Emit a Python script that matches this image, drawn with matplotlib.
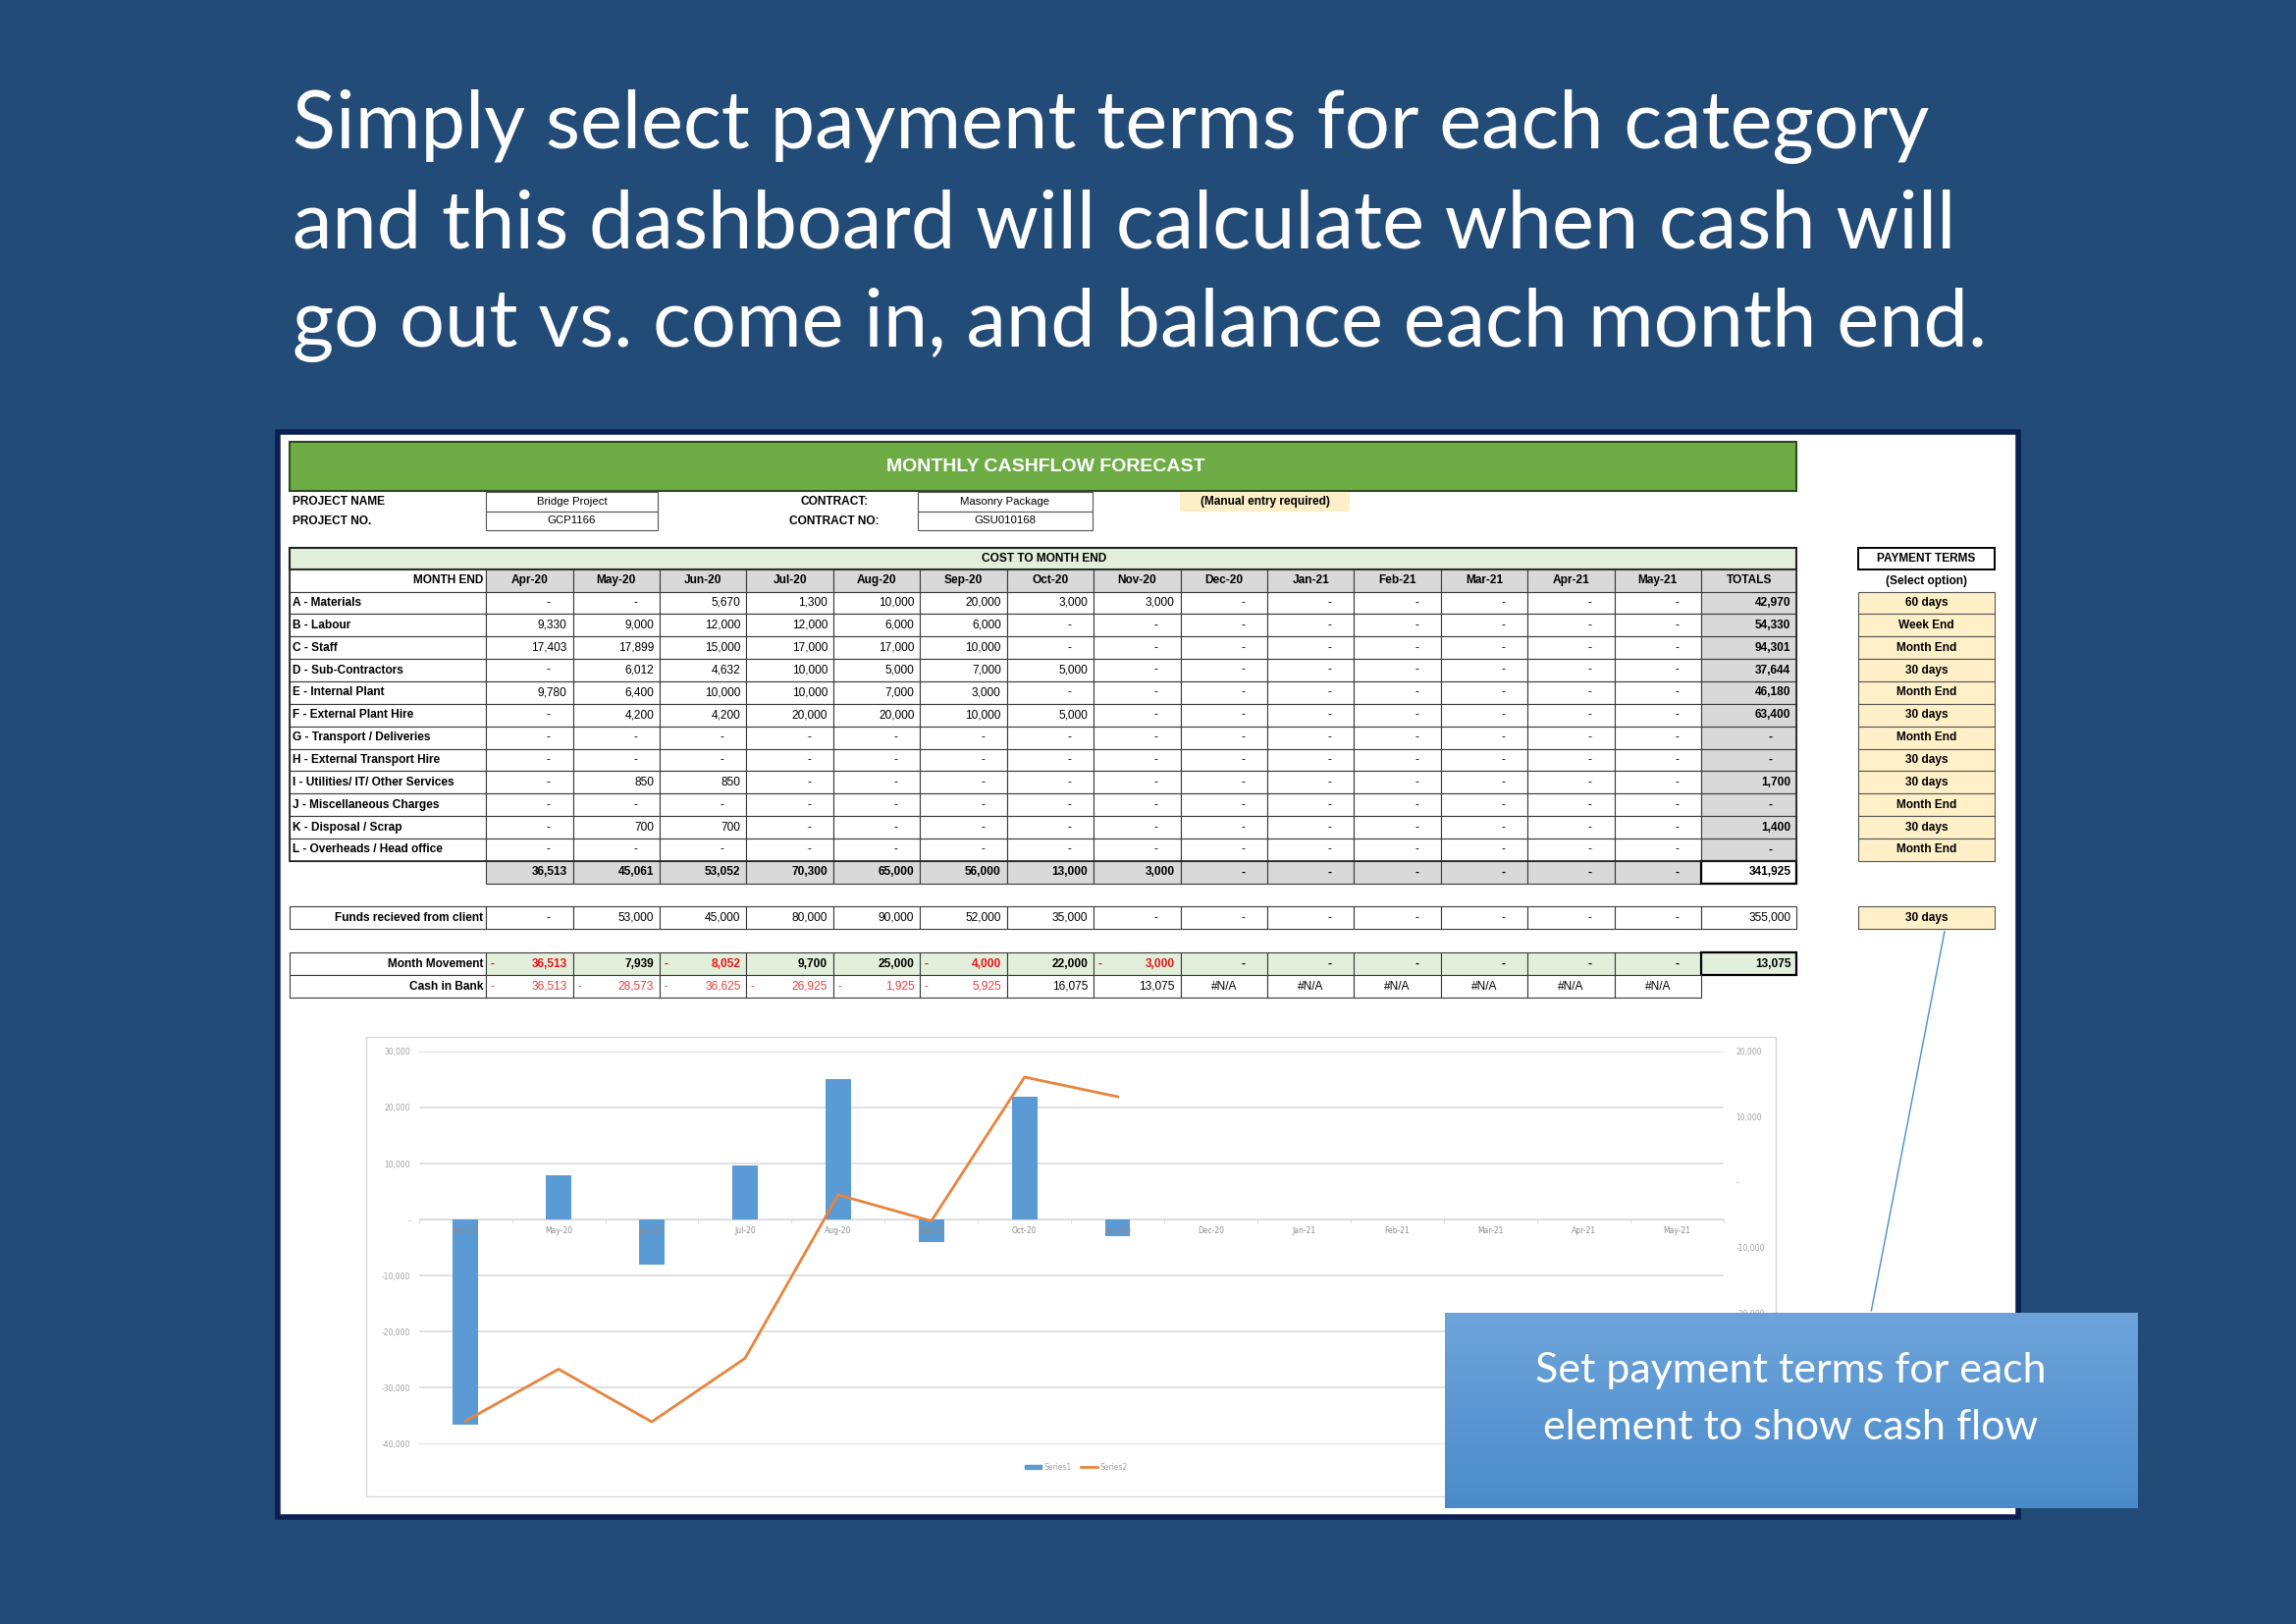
import numpy as np
import matplotlib
matplotlib.use("Agg")
from matplotlib import pyplot as plt
from matplotlib import font_manager
from matplotlib.patches import Rectangle, Patch
from matplotlib.lines import Line2D
from matplotlib.colors import LinearSegmentedColormap

# ---- data ----
months = ["Apr-20", "May-20", "Jun-20", "Jul-20", "Aug-20", "Sep-20", "Oct-20",
          "Nov-20", "Dec-20", "Jan-21", "Feb-21", "Mar-21", "Apr-21", "May-21"]
categories = ["A - Materials", "B - Labour", "C - Staff", "D - Sub-Contractors",
              "E - Internal Plant", "F - External Plant Hire", "G - Transport / Deliveries",
              "H - External Transport Hire", "I - Utilities/ IT/ Other Services",
              "J - Miscellaneous Charges", "K - Disposal / Scrap", "L - Overheads / Head office"]
materials = [0, 0, 5670, 1300, 10000, 20000, 3000, 3000, 0, 0, 0, 0, 0, 0]
labour = [9330, 9000, 12000, 12000, 6000, 6000, 0, 0, 0, 0, 0, 0, 0, 0]
staff = [17403, 17899, 15000, 17000, 17000, 10000, 0, 0, 0, 0, 0, 0, 0, 0]
sub_contractors = [0, 6012, 4632, 10000, 5000, 7000, 5000, 0, 0, 0, 0, 0, 0, 0]
internal_plant = [9780, 6400, 10000, 10000, 7000, 3000, 0, 0, 0, 0, 0, 0, 0, 0]
external_plant = [0, 4200, 4200, 20000, 20000, 10000, 5000, 0, 0, 0, 0, 0, 0, 0]
transport = [0] * 14
transport_hire = [0] * 14
utilities = [0, 850, 850, 0, 0, 0, 0, 0, 0, 0, 0, 0, 0, 0]
misc = [0] * 14
disposal = [0, 700, 700, 0, 0, 0, 0, 0, 0, 0, 0, 0, 0, 0]
overheads = [0] * 14
row_totals = [42970, 54330, 94301, 37644, 46180, 63400, 0, 0, 1700, 0, 1400, 0]
month_totals = [36513, 45061, 53052, 70300, 65000, 56000, 13000, 3000, 0, 0, 0, 0, 0, 0]
grand_total = 341925
payment_terms = ["60 days", "Week End", "Month End", "30 days", "Month End", "30 days",
                 "Month End", "30 days", "30 days", "Month End", "30 days", "Month End"]
funds_received = [0, 53000, 45000, 80000, 90000, 52000, 35000, 0, 0, 0, 0, 0, 0, 0]
funds_total = 355000
funds_terms = "30 days"
month_movement = [-36513, 7939, -8052, 9700, 25000, -4000, 22000, -3000, 0, 0, 0, 0, 0, 0]
movement_total = 13075
cash_in_bank = [-36513, -28573, -36625, -26925, -1925, -5925, 16075, 13075]

cost_rows = [materials, labour, staff, sub_contractors, internal_plant, external_plant,
             transport, transport_hire, utilities, misc, disposal, overheads]

BG = "#224C77"
GREEN = "#6EAC45"
LGREEN = "#E2EFDA"
GRAY = "#D9D9D9"
YELLOW = "#FFF0C8"
RED = "#E8161B"
BAR = "#5B9BD5"
LINE = "#E8843D"

names = {f.name for f in font_manager.fontManager.ttflist}
NARROW = "Liberation Sans Narrow" if "Liberation Sans Narrow" in names else "Liberation Sans"
FS = 9.6 if NARROW == "Liberation Sans Narrow" else 8.6
ARIAL = "Liberation Sans"

W, H = 1568, 1109
fig = plt.figure(figsize=(23.39, 16.54), dpi=100, facecolor=BG)

bg = fig.add_axes([0, 0, 1, 1])
bg.set_xlim(0, W)
bg.set_ylim(H, 0)
bg.axis("off")


def rect(ax, x0, y0, x1, y1, fc="white", ec="#3A3A3A", lw=0.8, z=2):
    ax.add_patch(Rectangle((x0, y0), x1 - x0, y1 - y0, facecolor=fc, edgecolor=ec,
                           linewidth=lw, zorder=z))


def txt(x, y, s, ha="center", size=FS, weight="normal", color="black", family=None):
    bg.text(x, y, s, ha=ha, va="center", fontsize=size, fontweight=weight, color=color,
            family=family or NARROW, zorder=5)


def value(x0, x1, yc, v, bold=False, neg_color="black", dash_at=0.72):
    w = "bold" if bold else "normal"
    if v == 0:
        txt(x0 + dash_at * (x1 - x0), yc, "-", weight=w)
    elif v < 0:
        txt(x0 + 3, yc, "-", ha="left", weight=w, color=neg_color)
        txt(x1 - 4, yc, f"{abs(v):,}", ha="right", weight=w, color=neg_color)
    else:
        txt(x1 - 4, yc, f"{v:,}", ha="right", weight=w)


# title
title_lines = ["Simply select payment terms for each category",
               "and this dashboard will calculate when cash will",
               "go out vs. come in, and balance each month end."]
for i, line in enumerate(title_lines):
    bg.text(200, 101 + i * 68, line, ha="left", va="baseline", fontsize=58.5,
            color="white", family="Lato")

# screenshot panel
rect(bg, 190, 295, 1378, 1036, fc="white", ec="#0B1F52", lw=4, z=1)

# green header
rect(bg, 198, 302, 1227, 335, fc=GREEN, ec="#2E4A1E", lw=1.5)
txt(714, 318.5, "MONTHLY CASHFLOW FORECAST", size=14, weight="bold", color="white", family=ARIAL)

# project info
txt(200, 342.5, "PROJECT NAME", ha="left", weight="bold")
txt(200, 356, "PROJECT NO.", ha="left", weight="bold")
txt(570, 342.5, "CONTRACT:", weight="bold")
txt(570, 356, "CONTRACT NO:", weight="bold")
for (x0, x1), (top, bottom) in [((332, 449), ("Bridge Project", "GCP1166")),
                                ((627, 746), ("Masonry Package", "GSU010168"))]:
    rect(bg, x0, 336, x1, 349, ec="#555555")
    rect(bg, x0, 349, x1, 362, ec="#555555")
    txt((x0 + x1) / 2, 342.5, top, size=FS * 0.95)
    txt((x0 + x1) / 2, 355.5, bottom, size=FS * 0.95)
rect(bg, 806, 336, 922, 349, fc="#FDEFC8", ec="none", lw=0)
txt(864, 342.5, "(Manual entry required)", weight="bold")

# cost table
col_x = [332 + i * (1161.8 - 332) / 14 for i in range(15)]
lab_x0, tot_x1 = 198, 1227
row_h = 15.33
rect(bg, lab_x0, 374, tot_x1, 389, fc=LGREEN, ec="#222222", lw=1.5)
txt(713, 381.5, "COST TO MONTH END", weight="bold")

hy0, hy1 = 389, 404
rect(bg, lab_x0, hy0, col_x[0], hy1)
txt(col_x[0] - 2, 396.5, "MONTH END", ha="right", weight="bold")
for i, m in enumerate(months):
    rect(bg, col_x[i], hy0, col_x[i + 1], hy1, fc=GRAY)
    txt((col_x[i] + col_x[i + 1]) / 2, 396.5, m, weight="bold")
rect(bg, col_x[14], hy0, tot_x1, hy1, fc=GRAY)
txt((col_x[14] + tot_x1) / 2, 396, "TOTALS", weight="bold")

for r, (name, vals) in enumerate(zip(categories, cost_rows)):
    y0 = hy1 + r * row_h
    y1 = y0 + row_h
    yc = (y0 + y1) / 2
    rect(bg, lab_x0, y0, col_x[0], y1)
    txt(lab_x0 + 2, yc, name, ha="left", weight="bold")
    for i, v in enumerate(vals):
        rect(bg, col_x[i], y0, col_x[i + 1], y1)
        value(col_x[i], col_x[i + 1], yc, v)
    rect(bg, col_x[14], y0, tot_x1, y1, fc=GRAY)
    value(col_x[14], tot_x1, yc, row_totals[r], bold=True)

# totals row
ty0 = hy1 + 12 * row_h
ty1 = ty0 + row_h
tyc = (ty0 + ty1) / 2
for i, v in enumerate(month_totals):
    rect(bg, col_x[i], ty0, col_x[i + 1], ty1, fc=GRAY)
    value(col_x[i], col_x[i + 1], tyc, v, bold=True)
rect(bg, col_x[14], ty0, tot_x1, ty1, fc="white", ec="black", lw=1.6)
value(col_x[14], tot_x1, tyc, grand_total, bold=True)
rect(bg, lab_x0, 374, tot_x1, ty0, fc="none", ec="#222222", lw=1.2, z=3)

# payment terms
rect(bg, 1269, 374, 1362, 389, ec="black", lw=1.4)
txt(1315.5, 381.5, "PAYMENT TERMS", weight="bold")
txt(1315.5, 397, "(Select option)", weight="bold")
for r, term in enumerate(payment_terms):
    y0 = hy1 + r * row_h
    rect(bg, 1269, y0, 1362, y0 + row_h, fc=YELLOW, ec="#555555")
    txt(1315.5, y0 + row_h / 2, term, weight="bold")

# funds row
fy0, fy1 = 619, 634.3
fyc = (fy0 + fy1) / 2
rect(bg, lab_x0, fy0, col_x[0], fy1)
txt(col_x[0] - 2, fyc, "Funds recieved from client", ha="right", weight="bold")
for i, v in enumerate(funds_received):
    rect(bg, col_x[i], fy0, col_x[i + 1], fy1)
    value(col_x[i], col_x[i + 1], fyc, v)
rect(bg, col_x[14], fy0, tot_x1, fy1)
value(col_x[14], tot_x1, fyc, funds_total)
rect(bg, 1269, fy0, 1362, fy1, fc=YELLOW, ec="#555555")
txt(1315.5, fyc, funds_terms, weight="bold")

# month movement / cash in bank
my0, my1 = 650.5, 666
myc = (my0 + my1) / 2
rect(bg, lab_x0, my0, col_x[0], my1)
txt(col_x[0] - 2, myc, "Month Movement", ha="right", weight="bold")
for i, v in enumerate(month_movement):
    rect(bg, col_x[i], my0, col_x[i + 1], my1, fc=LGREEN)
    value(col_x[i], col_x[i + 1], myc, v, bold=True, neg_color=RED)
rect(bg, col_x[14], my0, tot_x1, my1, fc=LGREEN, ec="black", lw=1.6)
value(col_x[14], tot_x1, myc, movement_total, bold=True)

cy0, cy1 = 666, 681.5
cyc = (cy0 + cy1) / 2
rect(bg, lab_x0, cy0, col_x[0], cy1)
txt(col_x[0] - 2, cyc, "Cash in Bank", ha="right", weight="bold")
for i in range(14):
    rect(bg, col_x[i], cy0, col_x[i + 1], cy1)
    if i < len(cash_in_bank):
        value(col_x[i], col_x[i + 1], cyc, cash_in_bank[i], neg_color="#E0403F")
    else:
        txt((col_x[i] + col_x[i + 1]) / 2, cyc, "#N/A")

# chart frame
rect(bg, 250, 708, 1213, 1022, fc="white", ec="#D9D9D9", lw=1, z=1)

# ---- chart ----
ax = fig.add_axes([286 / W, 1 - 986 / H, (1177 - 286) / W, (986 - 718) / H])
ax.set_facecolor("none")
x = np.arange(len(months))
ax.set_ylim(-40000, 30000)
ax.set_yticks(np.arange(-40000, 30001, 10000))
for v in ax.get_yticks():
    ax.axhline(v, color="#D9D9D9", lw=1.1, zorder=0.2)
ax.bar(x, month_movement, width=0.27, color=BAR, zorder=1, label="Series1")
ax.set_xlim(-0.5, len(months) - 0.5)
fmt = lambda v: "-" if v == 0 else f"{v:,.0f}"
ax.set_yticklabels([fmt(v) for v in ax.get_yticks()])
for s in ["top", "right", "left"]:
    ax.spines[s].set_visible(False)
ax.spines["bottom"].set_position(("data", 0))
ax.spines["bottom"].set_color("#D9D9D9")
ax.spines["bottom"].set_zorder(0.5)
ax.set_xticks(x)
ax.set_xticklabels(months)
ax.set_xticks(np.arange(-0.5, len(months), 1), minor=True)
ax.tick_params(axis="x", which="major", length=0, pad=5, labelsize=5.5, labelcolor="#8C8C8C")
ax.tick_params(axis="x", which="minor", length=3, color="#D9D9D9")
ax.tick_params(axis="y", length=0, pad=6, labelsize=5.5, labelcolor="#A0A0A0")
ax.xaxis.set_zorder(3)

ax2 = ax.twinx()
ax2.plot(x[:len(cash_in_bank)], cash_in_bank, color=LINE, lw=2.0, label="Series2")
ax2.set_ylim(-40000, 20000)
# the lowest right-hand labels sit behind the callout box, so only the visible ones are set
ax2.set_yticks(np.arange(-20000, 20001, 10000))
ax2.set_yticklabels([fmt(v) for v in ax2.get_yticks()])
for s in ax2.spines.values():
    s.set_visible(False)
ax2.tick_params(axis="y", length=0, pad=9, labelsize=5.5, labelcolor="#A0A0A0")

ax.legend([Patch(color=BAR), Line2D([0], [0], color=LINE, lw=2)], ["Series1", "Series2"],
          loc="center", bbox_to_anchor=(735 / W, 1 - 1002 / H), bbox_transform=fig.transFigure,
          ncol=2, frameon=False, fontsize=5.5, labelcolor="#A0A0A0", handlelength=2.2,
          handleheight=0.5, columnspacing=1.2, handletextpad=0.3)

# ---- callout overlay ----
top = fig.add_axes([0, 0, 1, 1])
top.patch.set_visible(False)
top.axis("off")
top.plot([1328, 1278], [636, 895], color="#4A8CCB", lw=1.0)
grad = np.linspace(0, 1, 200).reshape(-1, 1)
cmap = LinearSegmentedColormap.from_list("callout", ["#6EA4DA", "#4A8BCB"])
top.imshow(grad, extent=(987, 1460, 1030, 897), cmap=cmap, aspect="auto", origin="upper", zorder=3)
top.text(1223, 936, "Set payment terms for each", ha="center", va="center", fontsize=31,
         color="white", family="Lato", zorder=4)
top.text(1223, 975, "element to show cash flow", ha="center", va="center", fontsize=31,
         color="white", family="Lato", zorder=4)
top.set_xlim(0, W)
top.set_ylim(H, 0)

fig.savefig("out.png", dpi=100, facecolor=BG)
